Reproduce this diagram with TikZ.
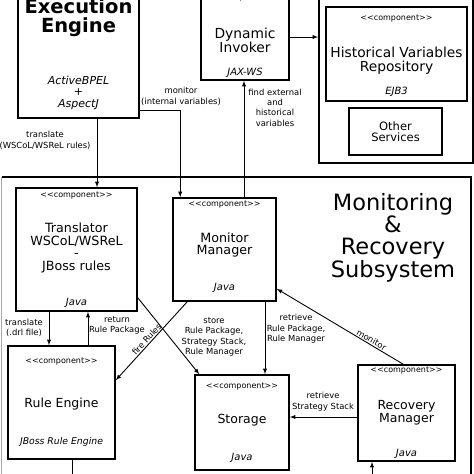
\documentclass[tikz,border=0pt]{standalone}
\usepackage{fontspec}
\setmainfont{DejaVu Sans}
\usepackage{tikz}
\usetikzlibrary{arrows.meta, positioning}
\tikzstyle{block}=[draw,rectangle,line width=1.6pt]
\tikzstyle{outerbox}=[draw,rectangle,line width=1.8pt]
\tikzstyle{stereo}=[font=\fontsize{8}{9}\selectfont]
\tikzstyle{tech}=[font=\fontsize{10}{11.5}\selectfont\itshape]
\tikzstyle{cname}=[align=center,font=\fontsize{12.5}{12.7}\selectfont]
\tikzstyle{lbl}=[align=center,font=\fontsize{8.4}{10.5}\selectfont]
\tikzstyle{conn}=[->,line width=0.9pt]
\newcommand{\comp}{<{}<component>{}>}

\begin{document}
\begin{tikzpicture}[x=1pt,y=-1pt,>=latex,inner sep=0pt]
  \useasboundingbox (0,0) rectangle (474,474);
  % outer frames
  \node[outerbox,minimum width=154pt,minimum height=183pt] (repo) at (396,71.5) {};
  \node[minimum width=469pt,minimum height=343pt] (mrs) at (236.5,348.5) {};
  \draw[line width=1.8pt] (mrs.south east) -- (mrs.north east) -- (mrs.north west);
  \draw[line width=1pt,black!35] (mrs.north west) -- (mrs.south west);
  \node[align=center,font=\fontsize{22.5}{22.4}\selectfont] (mrstitle) at (393,237.5) {Monitoring\\\&\\Recovery\\Subsystem};
  % execution engine
  \node[block,minimum width=121pt,minimum height=158pt] (exec) at (78.5,39) {};
  \node[align=center,font=\fontsize{19.5}{19}\selectfont\bfseries] (exectitle) at (78.5,17.5) {Execution\\Engine};
  \node[align=center,font=\fontsize{11}{11.5}\selectfont\itshape] (exectech) at (78.5,92.5) {ActiveBPEL\\+\\AspectJ};
  % dynamic invoker
  \node[block,minimum width=88pt,minimum height=90pt] (inv) at (245,35) {};
  \node[stereo,below=4.3pt of inv.north] (invst) {\comp};
  \node[cname,font=\fontsize{13.8}{14}\selectfont] (invname) at (245,40) {Dynamic\\Invoker};
  \node[tech,above=3.5pt of inv.south] (invtech) {JAX-WS};
  % historical variables repository
  \node[block,minimum width=141pt,minimum height=94pt] (hvr) at (396.5,54) {};
  \node[stereo,below=8.3pt of hvr.north] (hvrst) {\comp};
  \node[cname,font=\fontsize{13.8}{14}\selectfont] (hvrname) at (396.5,60.5) {Historical Variables\\Repository};
  \node[tech,above=5.5pt of hvr.south] (hvrtech) {EJB3};
  \node[block,minimum width=93pt,minimum height=47pt,align=center,font=\fontsize{11.5}{10.8}\selectfont] (other) at (395.5,131.5) {Other\\Services};
  % translator
  \node[block,minimum width=121pt,minimum height=123pt] (trans) at (76.5,249.5) {};
  \node[stereo,below=4.3pt of trans.north] (transst) {\comp};
  \node[cname,font=\fontsize{12.7}{12.7}\selectfont] (transname) at (76.5,248) {Translator\\WSCoL/WSReL\\-\\JBoss rules};
  \node[tech,above=4.5pt of trans.south] (transtech) {Java};
  % monitor manager
  \node[block,minimum width=103pt,minimum height=103pt] (mon) at (224.5,249.5) {};
  \node[stereo,below=3.3pt of mon.north] (monst) {\comp};
  \node[cname,font=\fontsize{12.7}{12.9}\selectfont] (monname) at (224.5,245) {Monitor\\Manager};
  \node[tech,above=9.5pt of mon.south] (montech) {Java};
  % rule engine
  \node[block,minimum width=107pt,minimum height=113pt] (rule) at (61.5,402.5) {};
  \node[stereo,below=12.3pt of rule.north] (rulest) {\comp};
  \node[cname] (rulename) at (61.5,404) {Rule Engine};
  \node[tech,font=\fontsize{9.3}{11}\selectfont\itshape,above=13.5pt of rule.south] (ruletech) {JBoss Rule Engine};
  % storage
  \node[block,minimum width=94pt,minimum height=95pt] (stor) at (242,422.5) {};
  \node[stereo,below=8.3pt of stor.north] (storst) {\comp};
  \node[cname] (storname) at (242,420) {Storage};
  \node[tech,above=8.5pt of stor.south] (stortech) {Java};
  % recovery manager
  \node[block,minimum width=97pt,minimum height=96pt] (rec) at (406.5,413) {};
  \node[stereo,below=2.3pt of rec.north] (recst) {\comp};
  \node[cname] (recname) at (406.5,413) {Recovery\\Manager};
  \node[tech,above=3.5pt of rec.south] (rectech) {Java};
  % free ends
  \coordinate (recin) at (372,480);
  \coordinate (ruleout) at (72,480);
  % connectors
  \draw[conn] ([xshift=18.5pt]exec.south) -- ([xshift=20.5pt]trans.north);
  \node[lbl] (ltrans) at (45,140.5) {translate\\(WSCoL/WSReL rules)};
  \draw[conn] ([yshift=8pt]exec.south east) -| ([xshift=8pt]mon.north west);
  \node[lbl] (lmon) at (181,96.5) {monitor\\(internal variables)};
  \draw[conn] ([xshift=19.5pt]mon.north) -- ([xshift=-1pt]inv.south);
  \node[lbl,font=\fontsize{8.4}{10.3}\selectfont] (lfind) at (275,107.5) {find external\\and\\historical\\variables};
  \draw[conn] ([yshift=-2pt]inv.east) -- ([yshift=-2pt]inv.east -| repo.west);
  \draw[conn] ([xshift=-27.5pt]trans.south) -- ([xshift=-12.5pt]rule.north);
  \node[lbl] (ldrl) at (24,328) {translate\\(.drl file)};
  \draw[conn] ([xshift=26.5pt]rule.north) -- ([xshift=11.5pt]trans.south);
  \node[lbl] (lreturn) at (117,325.5) {return\\Rule Package};
  \draw[conn] ([yshift=14pt]trans.south east) -- ([xshift=5pt]stor.north west);
  \node[lbl] (lstore) at (214,337) {store\\Rule Package,\\Strategy Stack,\\Rule Manager};
  \draw[conn] ([xshift=15pt]mon.south west) -- node[lbl,sloped,above=1pt,pos=0.52] (lfire) {fire Rules} ([yshift=-35pt]rule.north east);
  \draw[conn] ([xshift=40.5pt]mon.south) -- ([xshift=23pt]stor.north);
  \node[lbl] (lretr) at (296,329) {retrieve\\Rule Package,\\Rule Manager};
  \draw[conn] ([xshift=46pt]rec.north west) -- node[lbl,sloped,above=1pt,pos=0.27] (lrecmon) {monitor} ([yshift=13pt]mon.south east);
  \draw[conn] ([yshift=-4pt]rec.west) -- ([yshift=-4pt]rec.west -| stor.east);
  \node[lbl] (lstack) at (323,401.5) {retrieve\\Strategy Stack};
  \draw[conn] (recin) -- (recin |- rec.south);
  \draw[line width=0.9pt] (rule.south -| ruleout) -- (ruleout);
\end{tikzpicture}
\end{document}
